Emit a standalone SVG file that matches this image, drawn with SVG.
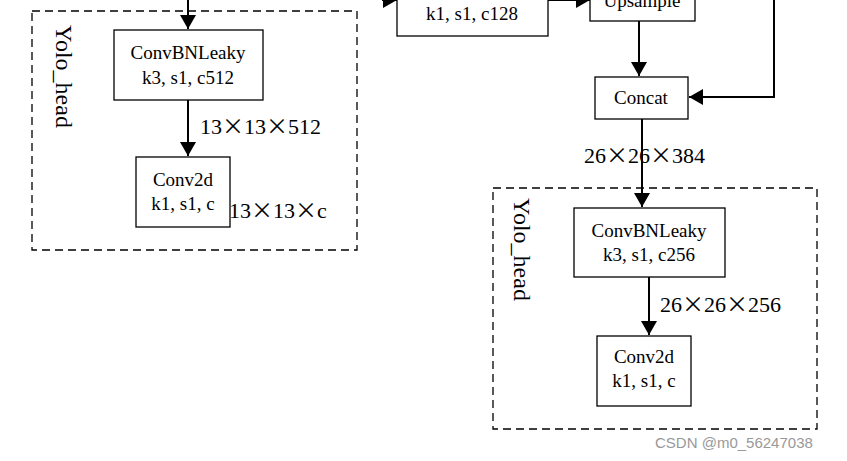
<svg xmlns="http://www.w3.org/2000/svg" width="847" height="461" viewBox="0 0 847 461">
<style>
.b{fill:#fff;stroke:#000;stroke-width:1.3}
.d{fill:none;stroke:#000;stroke-width:1.3;stroke-dasharray:8,5}
.l{fill:none;stroke:#000;stroke-width:2}
.t{font-family:"Liberation Serif",serif;font-size:19px;text-anchor:middle}
.n{font-family:"Liberation Serif",serif;font-size:22px}
.x{font-family:"Noto Sans CJK SC",sans-serif;font-size:22px}
.y{font-family:"Liberation Serif",serif;font-size:24px}
</style>
<defs>
<marker id="a2" markerWidth="14" markerHeight="16" refX="14" refY="8" orient="auto" markerUnits="userSpaceOnUse"><path d="M0,0L14,8L0,16z"/></marker></defs>
<rect fill="#fff" width="847" height="461"/>
<g id="edges">
<path class="l" d="M188,0V29" marker-end="url(#a2)"/>
<path class="l" d="M188,100V156" marker-end="url(#a2)"/>
<path class="l" d="M382,0H397" marker-end="url(#a2)"/>
<path class="l" d="M548,0H590" marker-end="url(#a2)"/>
<path class="l" d="M639,21V76" marker-end="url(#a2)"/>
<path class="l" d="M774,0V97H689" marker-end="url(#a2)"/>
<path class="l" d="M642,119V207" marker-end="url(#a2)"/>
<path class="l" d="M649,277V335" marker-end="url(#a2)"/>
</g>
<g id="head1">
<rect class="d" x="32" y="11" width="325" height="239"/>
<text class="y" transform="translate(56,25) rotate(90)">Yolo_head</text>
</g>
<g id="cbl1"><rect class="b" x="114" y="30" width="149" height="70"/>
<text class="t" x="188" y="59">ConvBNLeaky</text><text class="t" x="188" y="84">k3, s1, c512</text></g>
<text class="n" x="200" y="134">13<tspan class="x">×</tspan>13<tspan class="x">×</tspan>512</text>
<g id="conv1"><rect class="b" x="136" y="157" width="94" height="70"/>
<text class="t" x="183" y="186">Conv2d</text><text class="t" x="183" y="210">k1, s1, c</text></g>
<text class="n" x="229" y="218">13<tspan class="x">×</tspan>13<tspan class="x">×</tspan>c</text>
<g id="cbl128"><rect class="b" x="397" y="-34" width="151" height="70"/>
<text class="t" x="472" y="20">k1, s1, c128</text></g>
<g id="up"><rect class="b" x="590" y="-20" width="105" height="41"/>
<text class="t" x="642" y="7">Upsample</text></g>
<g id="concat"><rect class="b" x="595" y="77" width="93" height="42"/>
<text class="t" x="641" y="104">Concat</text></g>
<text class="n" x="584" y="163">26<tspan class="x">×</tspan>26<tspan class="x">×</tspan>384</text>
<g id="head2">
<rect class="d" x="493" y="188" width="324" height="241"/>
<text class="y" transform="translate(514,198) rotate(90)">Yolo_head</text>
</g>
<g id="cbl2"><rect class="b" x="574" y="208" width="151" height="69"/>
<text class="t" x="649" y="237">ConvBNLeaky</text><text class="t" x="649" y="261">k3, s1, c256</text></g>
<text class="n" x="660" y="312">26<tspan class="x">×</tspan>26<tspan class="x">×</tspan>256</text>
<g id="conv2"><rect class="b" x="597" y="336" width="94" height="70"/>
<text class="t" x="644" y="363">Conv2d</text><text class="t" x="644" y="387">k1, s1, c</text></g>
<text x="655" y="448" style="font-family:'Liberation Sans',sans-serif;font-size:15px;fill:#999">CSDN @m0_56247038</text>
</svg>
